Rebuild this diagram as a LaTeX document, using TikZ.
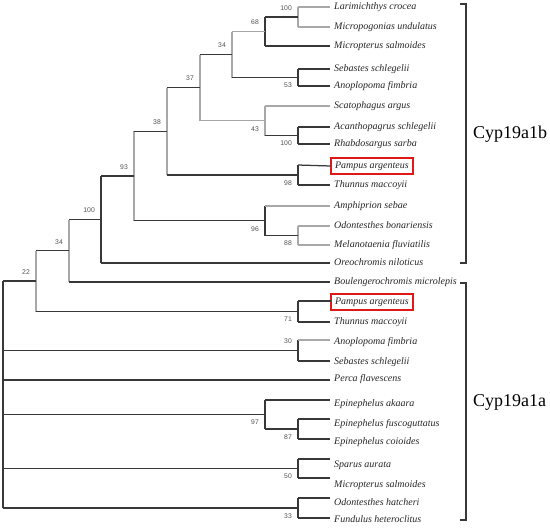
\documentclass[tikz,border=0pt]{standalone}
\usepackage{fontspec}
\setmainfont{Liberation Serif}
\newfontfamily\numfont{Liberation Sans}
\definecolor{dk}{HTML}{383838}
\definecolor{lt}{HTML}{A8A8A8}
\definecolor{bs}{HTML}{505050}
\definecolor{rbox}{HTML}{E01818}
\tikzset{
  dkline/.style={draw=dk, line width=1.25pt},
  ltline/.style={draw=lt, line width=1.25pt},
  leaf/.style={anchor=west, inner sep=0pt, text height=7pt, text depth=2pt,
    font=\fontsize{10}{12}\selectfont\itshape, text=black!85},
  redleaf/.style={leaf, draw=rbox, line width=2pt, inner xsep=4.5pt, inner ysep=3.6pt, outer sep=0pt},
  boot/.style={font=\numfont\fontsize{6.8}{7}\selectfont, text=bs, inner sep=0pt, anchor=east, xshift=-6pt},
  bup/.style={boot, yshift=9pt},
  bdn/.style={boot, yshift=-8pt},
  brk/.style={draw=dk, line width=1.5pt},
  grp/.style={anchor=west, inner sep=0pt, font=\fontsize{18}{20}\selectfont}
}
\begin{document}
\begin{tikzpicture}[x=1pt, y=-1pt]
\useasboundingbox (0,0) rectangle (550,528);
% internal nodes
\coordinate (N100a) at (298,17);
\coordinate (N68) at (265,31.5);
\coordinate (N53) at (298,77.5);
\coordinate (N34a) at (232,54.5);
\coordinate (N100b) at (298,135.5);
\coordinate (N43) at (265,120.75);
\coordinate (N37) at (200,87.6);
\coordinate (N98) at (298,175);
\coordinate (N38) at (167,131.3);
\coordinate (N88) at (298,235.5);
\coordinate (N96) at (265,220.75);
\coordinate (N93) at (134,176);
\coordinate (N100c) at (101,219.5);
\coordinate (N34b) at (69,250.75);
\coordinate (N71) at (298,311.5);
\coordinate (N22) at (36,281);
\coordinate (N30) at (298,350.5);
\coordinate (N87) at (298,429);
\coordinate (N97) at (265,414.5);
\coordinate (N50) at (298,468.5);
\coordinate (N33) at (298,508);
\coordinate (R) at (3,394);
% leaf line ends
\foreach \i/\y in {1/7,2/27,3/46,4/69,5/86,6/106,7/127,8/144,9/165,10/185,11/206,12/226,13/245,14/263,15/282,16/301,17/322,18/340,19/361,20/380,21/400,22/419,23/439,24/459,25/478,26/498,27/518}
  \coordinate (e\i) at (330,\y);
% leaf labels
\node[leaf] (t1) at (334,7) {Larimichthys crocea};
\node[leaf] (t2) at (334,27) {Micropogonias undulatus};
\node[leaf] (t3) at (334,46) {Micropterus salmoides};
\node[leaf] (t4) at (334,69) {Sebastes schlegelii};
\node[leaf] (t5) at (334,86) {Anoplopoma fimbria};
\node[leaf] (t6) at (334,106) {Scatophagus argus};
\node[leaf] (t7) at (334,127) {Acanthopagrus schlegelii};
\node[leaf] (t8) at (334,144) {Rhabdosargus sarba};
\node[redleaf] (t9) at (330.5,166) {Pampus argenteus};
\node[leaf] (t10) at (334,185) {Thunnus maccoyii};
\node[leaf] (t11) at (334,206) {Amphiprion sebae};
\node[leaf] (t12) at (334,226) {Odontesthes bonariensis};
\node[leaf] (t13) at (334,245) {Melanotaenia fluviatilis};
\node[leaf] (t14) at (334,263) {Oreochromis niloticus};
\node[leaf] (t15) at (334,282) {Boulengerochromis microlepis};
\node[redleaf] (t16) at (330.5,302) {Pampus argenteus};
\node[leaf] (t17) at (334,322) {Thunnus maccoyii};
\node[leaf] (t18) at (334,342) {Anoplopoma fimbria};
\node[leaf] (t19) at (334,362) {Sebastes schlegelii};
\node[leaf] (t20) at (334,379) {Perca flavescens};
\node[leaf] (t21) at (334,404) {Epinephelus akaara};
\node[leaf] (t22) at (334,424) {Epinephelus fuscoguttatus};
\node[leaf] (t23) at (334,442) {Epinephelus coioides};
\node[leaf] (t24) at (334,465) {Sparus aurata};
\node[leaf] (t25) at (334,485) {Micropterus salmoides};
\node[leaf] (t26) at (334,503) {Odontesthes hatcheri};
\node[leaf] (t27) at (334,520) {Fundulus heteroclitus};
% vertical lines
\draw[ltline] (N100a |- e1) -- (N100a |- e2);
\draw[dkline] (N68 |- N100a) -- (N68 |- e3);
\draw[dkline] (N53 |- e4) -- (N53 |- e5);
\draw[ltline] (N34a |- N68) -- (N34a |- N53);
\draw[dkline] (N100b |- e7) -- (N100b |- e8);
\draw[ltline] (N43 |- e6) -- (N43 |- N100b);
\draw[ltline] (N37 |- N34a) -- (N37 |- N43);
\draw[dkline] (N98 |- e9) -- (N98 |- e10);
\draw[ltline] (N38 |- N37) -- (N38 |- N98);
\draw[ltline] (N88 |- e12) -- (N88 |- e13);
\draw[dkline] (N96 |- e11) -- (N96 |- N88);
\draw[ltline] (N93 |- N38) -- (N93 |- N96);
\draw[dkline] (N100c |- N93) -- (N100c |- e14);
\draw[ltline] (N34b |- N100c) -- (N34b |- e15);
\draw[dkline] (N71 |- e16) -- (N71 |- e17);
\draw[ltline] (N22 |- N34b) -- (N22 |- N71);
\draw[dkline] (N30 |- e18) -- (N30 |- e19);
\draw[dkline] (N87 |- e22) -- (N87 |- e23);
\draw[dkline] (N97 |- e21) -- (N97 |- N87);
\draw[dkline] (N50 |- e24) -- (N50 |- e25);
\draw[dkline] (N33 |- e26) -- (N33 |- e27);
\draw[dkline] (R |- N22) -- (R |- N33);
% horizontal lines to leaves
\draw[ltline] (N100a |- e1) -- (e1);
\draw[ltline] (N100a |- e2) -- (e2);
\draw[dkline] (N68 |- e3) -- (e3);
\draw[dkline] (N53 |- e4) -- (e4);
\draw[dkline] (N53 |- e5) -- (e5);
\draw[ltline] (N43 |- e6) -- (e6);
\draw[dkline] (N100b |- e7) -- (e7);
\draw[dkline] (N100b |- e8) -- (e8);
\draw[dkline] (N98 |- e9) -- (t9.west);
\draw[dkline] (N98 |- e10) -- (e10);
\draw[ltline] (N96 |- e11) -- (e11);
\draw[ltline] (N88 |- e12) -- (e12);
\draw[ltline] (N88 |- e13) -- (e13);
\draw[dkline] (N100c |- e14) -- (e14);
\draw[dkline] (N34b |- e15) -- (e15);
\draw[dkline] (N71 |- e16) -- (e16 -| t16.west);
\draw[dkline] (N71 |- e17) -- (e17);
\draw[ltline] (N30 |- e18) -- (e18);
\draw[dkline] (N30 |- e19) -- (e19);
\draw[dkline] (R |- e20) -- (e20);
\draw[dkline] (N97 |- e21) -- (e21);
\draw[dkline] (N87 |- e22) -- (e22);
\draw[dkline] (N87 |- e23) -- (e23);
\draw[dkline] (N50 |- e24) -- (e24);
\draw[dkline] (N50 |- e25) -- (e25);
\draw[dkline] (N33 |- e26) -- (e26);
\draw[dkline] (N33 |- e27) -- (e27);
% horizontal lines to internal nodes
\draw[dkline] (N68 |- N100a) -- (N100a);
\draw[ltline] (N34a |- N68) -- (N68);
\draw[dkline] (N34a |- N53) -- (N53);
\draw[dkline] (N43 |- N100b) -- (N100b);
\draw[dkline] (N37 |- N34a) -- (N34a);
\draw[ltline] (N37 |- N43) -- (N43);
\draw[dkline] (N38 |- N37) -- (N37);
\draw[dkline] (N38 |- N98) -- (N98);
\draw[dkline] (N96 |- N88) -- (N88);
\draw[dkline] (N93 |- N38) -- (N38);
\draw[dkline] (N93 |- N96) -- (N96);
\draw[dkline] (N100c |- N93) -- (N93);
\draw[dkline] (N34b |- N100c) -- (N100c);
\draw[dkline] (N22 |- N34b) -- (N34b);
\draw[dkline] (N22 |- N71) -- (N71);
\draw[dkline] (R |- N22) -- (N22);
\draw[dkline] (R |- N30) -- (N30);
\draw[dkline] (R |- N97) -- (N97);
\draw[dkline] (N97 |- N87) -- (N87);
\draw[dkline] (R |- N50) -- (N50);
\draw[dkline] (R |- N33) -- (N33);
% bootstrap values
\node[bup] (b1) at (N100a) {100};
\node[bup] (b2) at (N68) {68};
\node[bup] (b3) at (N34a) {34};
\node[bdn] (b4) at (N53) {53};
\node[bup] (b5) at (N37) {37};
\node[bdn] (b6) at (N43) {43};
\node[bdn] (b7) at (N100b) {100};
\node[bup] (b8) at (N38) {38};
\node[bdn] (b9) at (N98) {98};
\node[bup] (b10) at (N93) {93};
\node[bdn] (b11) at (N96) {96};
\node[bdn] (b12) at (N88) {88};
\node[bup] (b13) at (N100c) {100};
\node[bup] (b14) at (N34b) {34};
\node[bup] (b15) at (N22) {22};
\node[bdn] (b16) at (N71) {71};
\node[bup] (b17) at (N30) {30};
\node[bdn] (b18) at (N97) {97};
\node[bdn] (b19) at (N87) {87};
\node[bdn] (b20) at (N50) {50};
\node[bdn] (b21) at (N33) {33};
% brackets
\coordinate (k1) at (460,4);
\coordinate (k2) at (466,4);
\coordinate (k3) at (466,263);
\coordinate (k4) at (460,263);
\draw[brk] (k1) -- (k2) -- (k3) -- (k4);
\coordinate (k5) at (460,283);
\coordinate (k6) at (466,283);
\coordinate (k7) at (466,520);
\coordinate (k8) at (460,520);
\draw[brk] (k5) -- (k6) -- (k7) -- (k8);
\node[grp] (g1) at (473,134) {Cyp19a1b};
\node[grp] (g2) at (473,402) {Cyp19a1a};
\end{tikzpicture}
\end{document}
